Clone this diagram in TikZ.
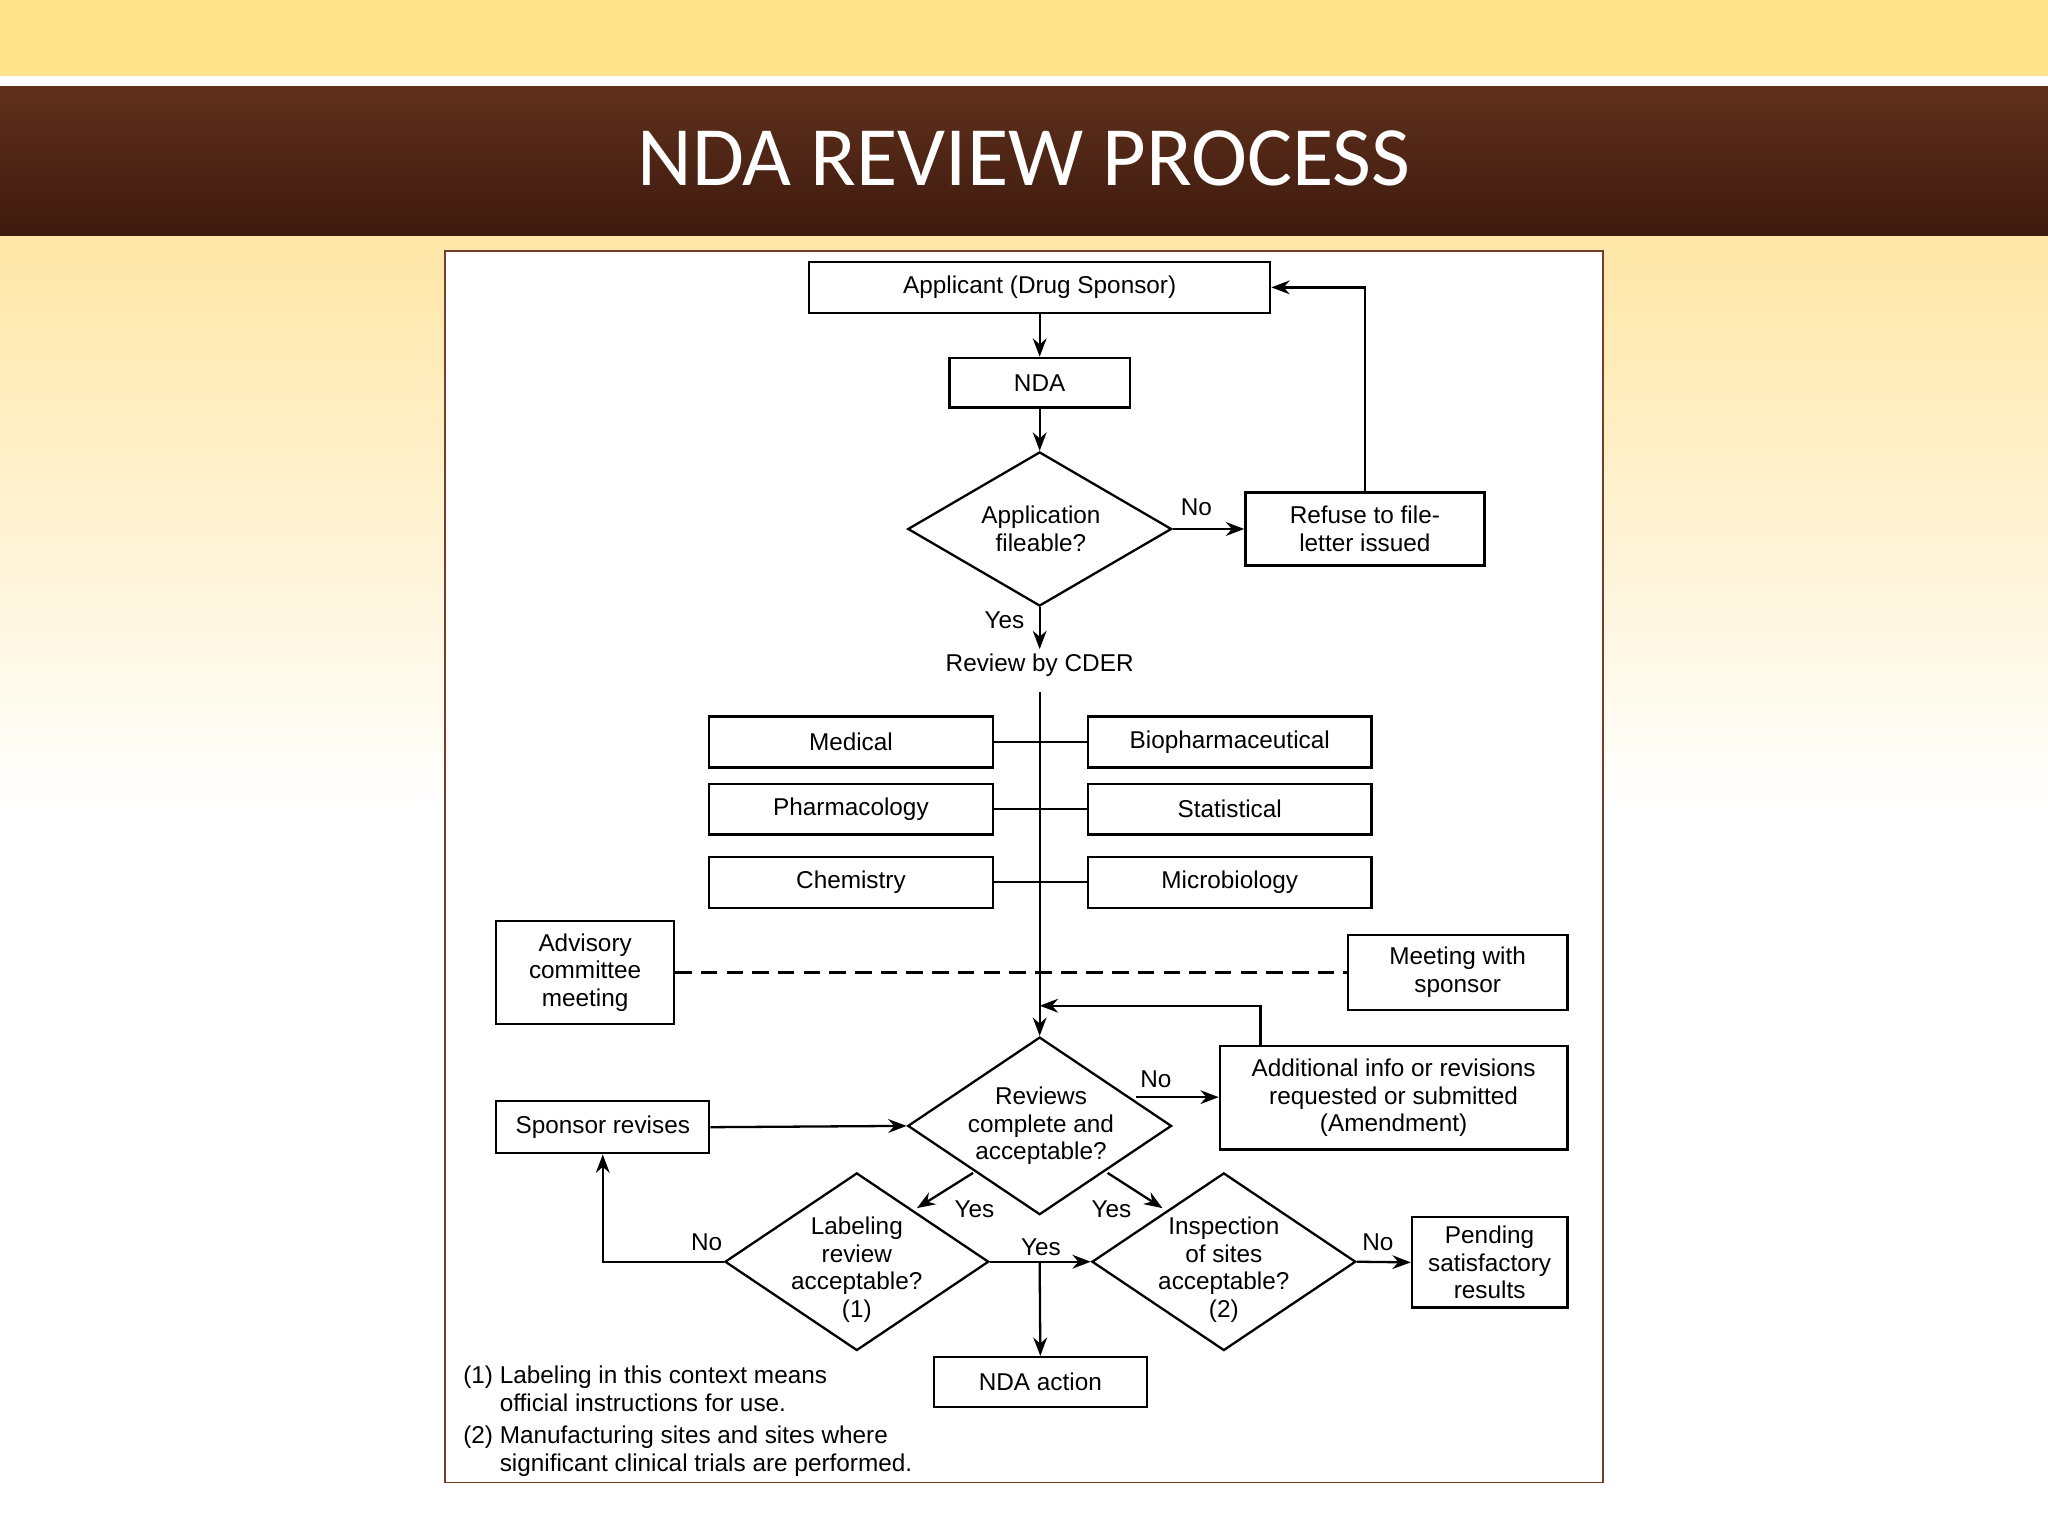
\documentclass[tikz,border=0pt]{standalone}
\usepackage{fontspec}
\setmainfont{Liberation Sans}
\newfontfamily\titlefont{Carlito}
\usetikzlibrary{shapes.geometric,arrows.meta}
\begin{document}
\begin{tikzpicture}[x=0.1mm,y=-0.1mm,
 box/.style={draw,line width=0.5pt,align=center,font=\fontsize{5.3}{6.0}\selectfont,inner sep=0pt},
 lab/.style={font=\fontsize{5.3}{6.0}\selectfont,inner sep=0pt},
 ar/.style={-{Stealth[length=4pt,width=3pt]},line width=0.5pt},
 ln/.style={line width=0.5pt}]
\useasboundingbox (0,0) rectangle (1568,1176);
\fill[top color=yellow!45!orange!35, bottom color=white] (0,180) rectangle (1568,620);
\fill[white] (0,620) rectangle (1568,1176);
\fill[color={rgb,255:red,255;green,228;blue,140}] (0,0) rectangle (1568,58);
\fill[white] (0,58) rectangle (1568,66);
\fill[top color={rgb,255:red,95;green,48;blue,28}, bottom color={rgb,255:red,62;green,26;blue,14}] (0,66) rectangle (1568,180);
\node[white,font=\titlefont\fontsize{18.4}{22}\selectfont] (title) at (784,121) {NDA REVIEW PROCESS};
\draw[fill=white,draw={rgb,255:red,120;green,60;blue,40},line width=0.4pt] (341,192) rectangle (1227,1135);
% nodes
\node[box,minimum width=35.3mm,minimum height=3.9mm] (app) at (796,220) {Applicant (Drug Sponsor)};
\node[box,minimum width=13.8mm,minimum height=3.8mm] (nda) at (796,293) {NDA};
\node[draw,diamond,line width=0.5pt,minimum width=20.2mm,minimum height=11.8mm,inner sep=0pt] (d1) at (796,405) {};
\node[lab,align=center] at (797,405) {Application\\fileable?};
\node[box,minimum width=18.3mm,minimum height=5.6mm] (ref) at (1045,405) {Refuse to file-\\letter issued};
\node[lab] (cder) at (796,509) {Review by CDER};
\coordinate (cd) at (796,497);
\coordinate (ct) at (796,530);
\node[box,minimum width=21.7mm,minimum height=3.9mm] (med) at (651.5,568) {Medical};
\node[box,minimum width=21.7mm,minimum height=3.9mm] (bio) at (941.5,568) {Biopharmaceutical};
\node[box,minimum width=21.7mm,minimum height=3.9mm] (pha) at (651.5,619.5) {Pharmacology};
\node[box,minimum width=21.7mm,minimum height=3.9mm] (sta) at (941.5,619.5) {Statistical};
\node[box,minimum width=21.7mm,minimum height=3.9mm] (che) at (651.5,675.5) {Chemistry};
\node[box,minimum width=21.7mm,minimum height=3.9mm] (mic) at (941.5,675.5) {Microbiology};
\node[box,minimum width=13.6mm,minimum height=7.9mm] (adv) at (448,744.5) {Advisory\\committee\\meeting};
\node[box,minimum width=16.8mm,minimum height=5.7mm] (mee) at (1116,744.5) {Meeting with\\sponsor};
\node[box,minimum width=26.6mm,minimum height=7.9mm] (add) at (1067,840.5) {Additional info or revisions\\requested or submitted\\(Amendment)};
\node[draw,diamond,line width=0.5pt,minimum width=20.2mm,minimum height=13.6mm,inner sep=0pt] (d2) at (796,862) {};
\node[lab,align=center] at (797,862) {Reviews\\complete and\\acceptable?};
\node[box,minimum width=16.3mm,minimum height=4mm] (spo) at (461.5,863) {Sponsor revises};
\node[draw,diamond,line width=0.5pt,minimum width=20.2mm,minimum height=13.6mm,inner sep=0pt] (d3) at (656,966) {};
\node[lab,align=center] at (656,972) {Labeling\\review\\acceptable?\\(1)};
\node[draw,diamond,line width=0.5pt,minimum width=20.2mm,minimum height=13.6mm,inner sep=0pt] (d4) at (937,966) {};
\node[lab,align=center] at (937,972) {Inspection\\of sites\\acceptable?\\(2)};
\node[box,minimum width=16.3mm,minimum height=3.8mm] (act) at (796.5,1058) {NDA action};
\node[box,minimum width=11.9mm,minimum height=6.9mm] (pen) at (1140.5,966.5) {Pending\\satisfactory\\results};
% connectors
\draw[ar] (app) -- (nda);
\draw[ar] (nda) -- (d1.north);
\draw[ar] (d1.east) -- (ref.west);
\node[lab] at (916,388) {No};
\draw[ar] (ref.north) |- (app.east);
\draw[ar] (d1.south) -- (cd);
\node[lab] at (769,475) {Yes};
\draw[ar] (ct) -- (d2.north);
\foreach \a/\b in {med/bio,pha/sta,che/mic} \draw[ln] (\a.east) -- (\b.west);
\draw[ln,dash pattern=on 3.6pt off 2pt] (adv.east) -- (mee.west);
\coordinate (ja) at (965,770);
\coordinate (jb) at (796,770);
\draw[ar] (add.north -| ja) -- (ja) -- (jb);
\coordinate (dn) at (870,840);
\draw[ar] (dn) -- (dn -| add.west);
\node[lab] at (885,826) {No};
\draw[ar] (spo.east) -- (d2.west);
\coordinate (y1) at (745,898); \coordinate (y1e) at (702,925);
\coordinate (y2) at (848,898); \coordinate (y2e) at (890,925);
\draw[ar] (y1) -- (y1e); \draw[ar] (y2) -- (y2e);
\node[lab] at (746,926) {Yes};
\node[lab] at (851,926) {Yes};
\draw[ar] (d3.west) -| (spo.south);
\node[lab] at (541,951) {No};
\draw[ar] (d3.east) -- (d4.west);
\node[lab] at (797,955) {Yes};
\coordinate (jm) at (796,966);
\draw[ar] (jm) -- (act.north);
\draw[ar] (d4.east) -- (pen.west);
\node[lab] at (1055,951) {No};
\node[lab,anchor=west,align=left,font=\fontsize{5.3}{6.2}\selectfont] (f1) at (354,1065) {(1) Labeling in this context means\\\phantom{(1) }official instructions for use.};
\node[lab,anchor=west,align=left,font=\fontsize{5.3}{6.2}\selectfont] (f2) at (354,1111) {(2) Manufacturing sites and sites where\\\phantom{(2) }significant clinical trials are performed.};
\end{tikzpicture}
\end{document}
